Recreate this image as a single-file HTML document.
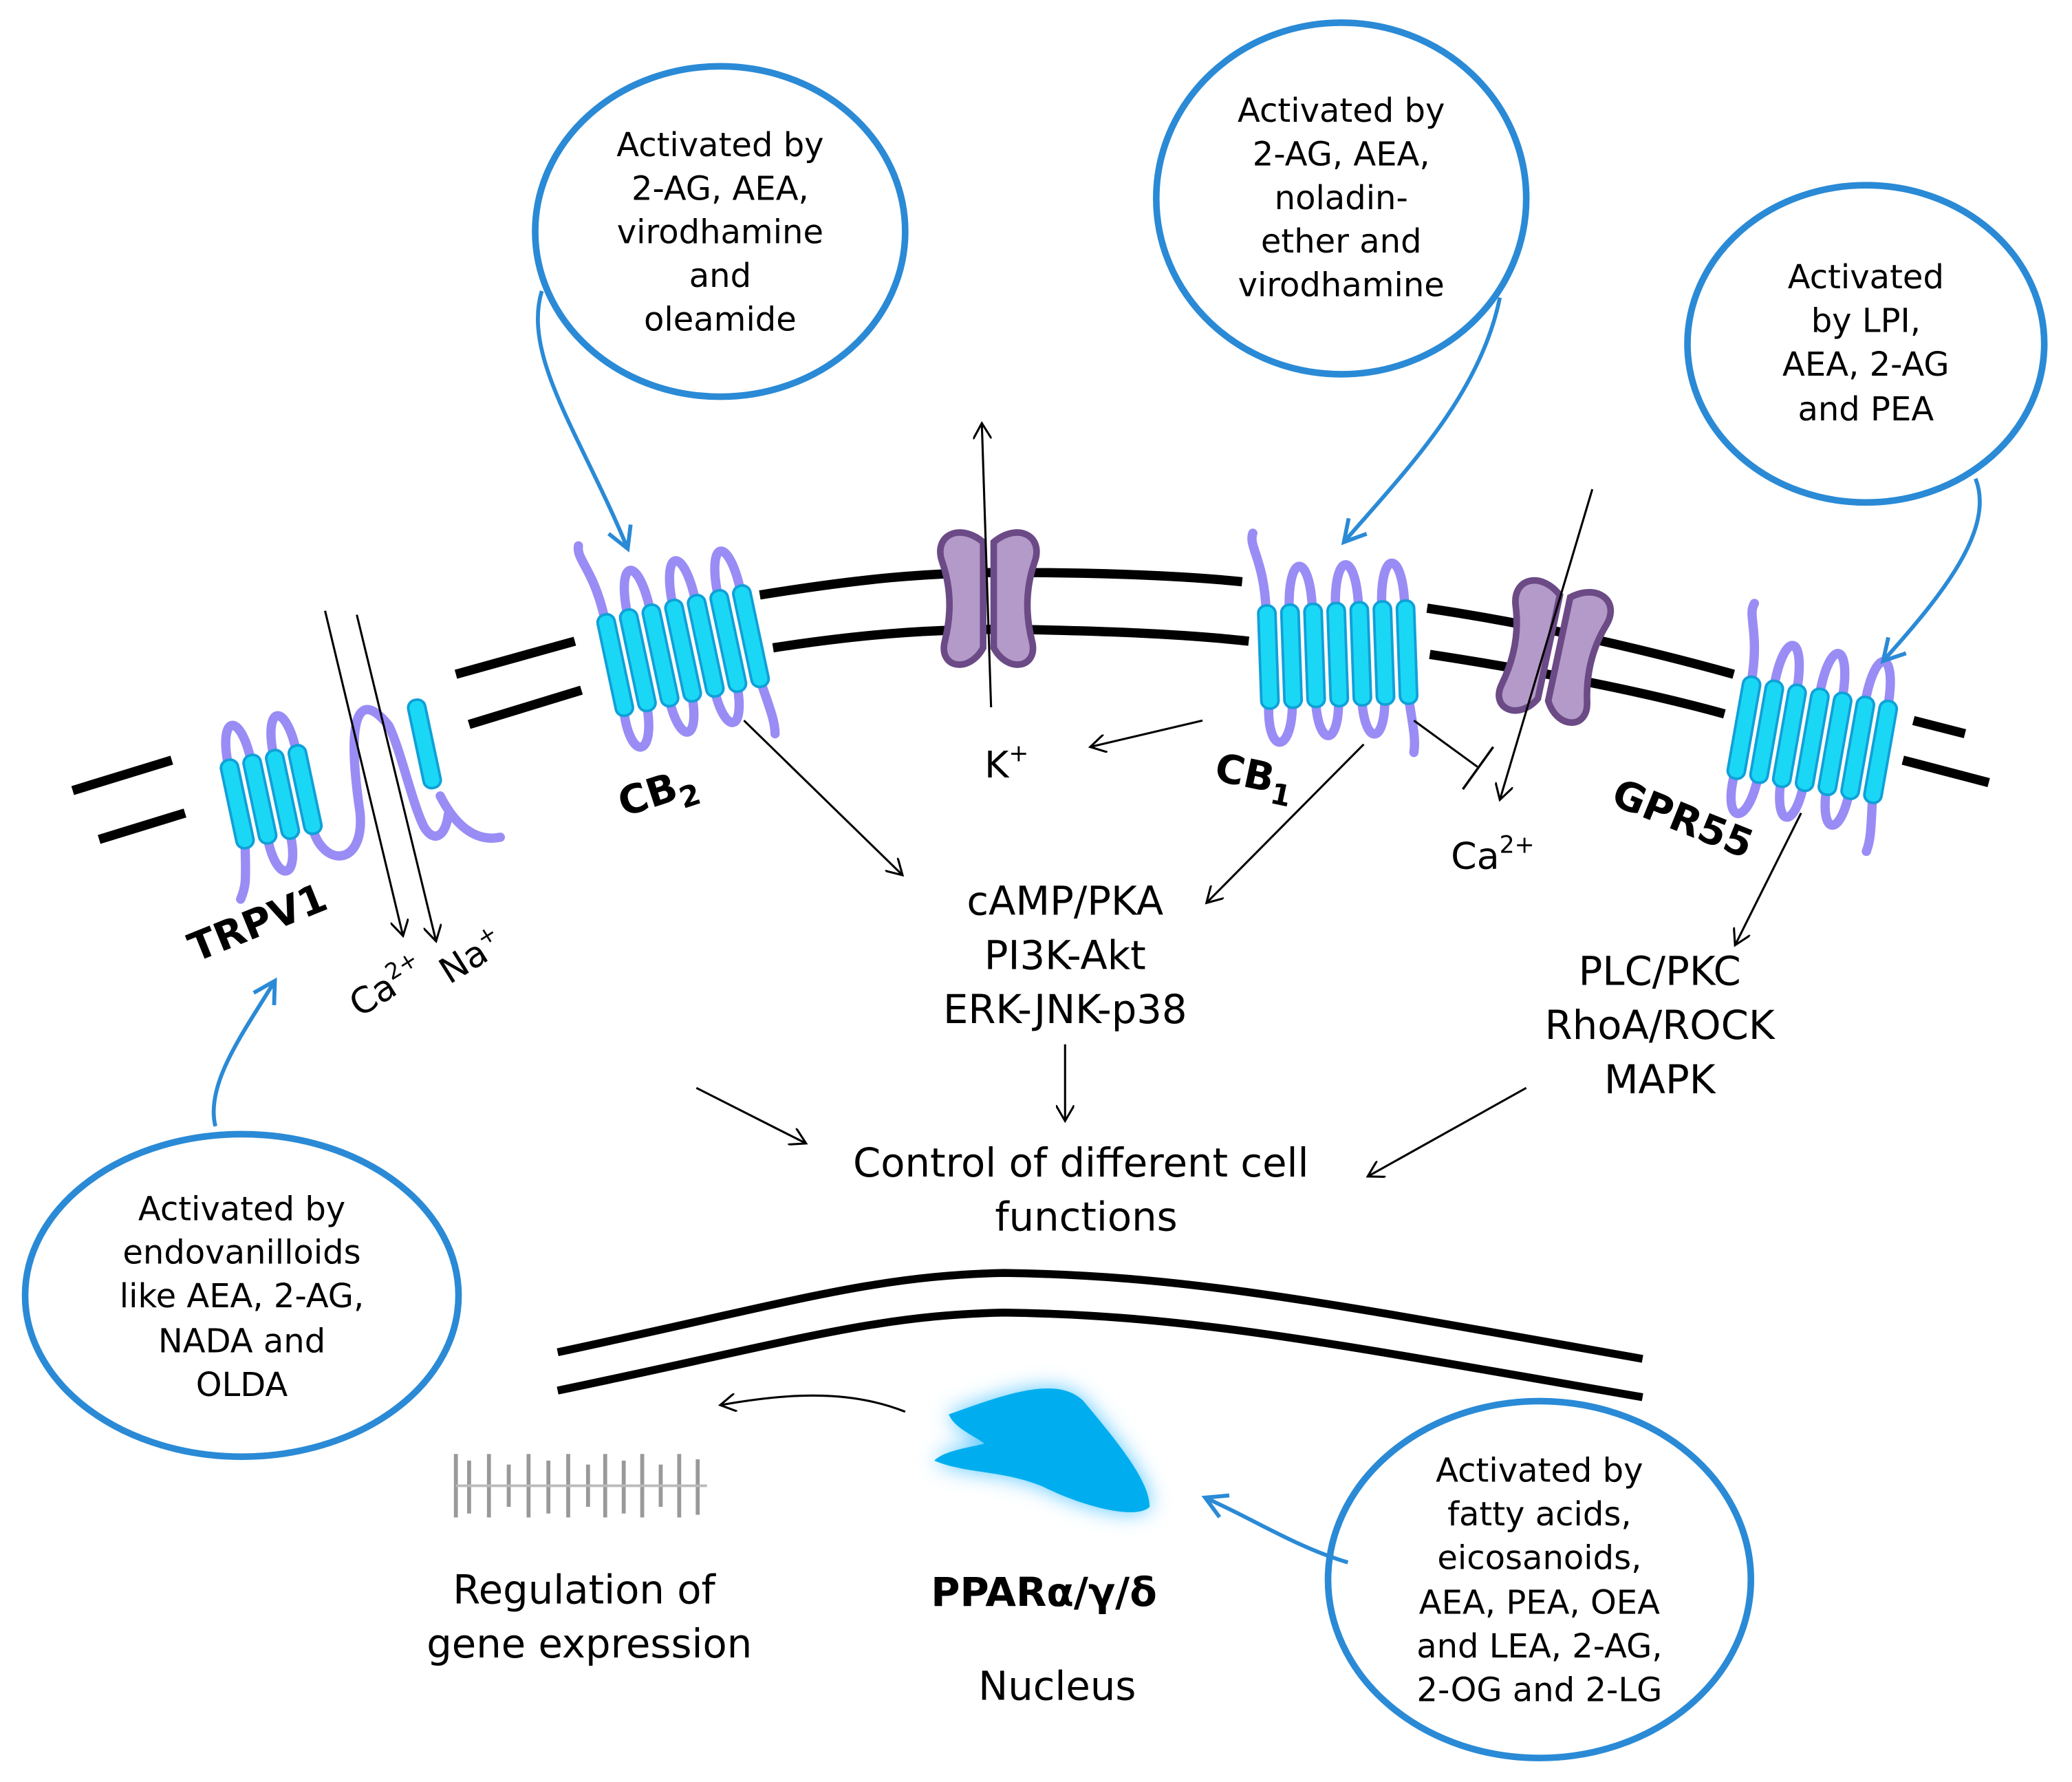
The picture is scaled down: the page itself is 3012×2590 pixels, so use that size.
<!DOCTYPE html>
<html><head><meta charset="utf-8"><style>
html,body{margin:0;padding:0;background:#fff}
svg{display:block}
text{font-family:"DejaVu Sans","Liberation Sans",sans-serif;fill:#000}
</style></head><body>
<svg width="3012" height="2590" viewBox="0 0 1568 1348" xmlns="http://www.w3.org/2000/svg">
<defs>
<marker id="a" markerWidth="14" markerHeight="14" refX="12" refY="7" orient="auto" markerUnits="userSpaceOnUse"><path d="M0,0 L12,7 L0,14" fill="none" stroke="#000" stroke-width="1.6"/></marker>
<marker id="b" markerWidth="22" markerHeight="22" refX="18" refY="11" orient="auto" markerUnits="userSpaceOnUse"><path d="M2,2 L18,11 L2,20" fill="none" stroke="#2a8ad6" stroke-width="3"/></marker>
<g id="gp">
<g fill="none" stroke="#9a8cf5" stroke-width="7" stroke-linecap="round">
<path d="M0,5 C0,-35 -12,-45 -8,-55"/>
<path d="M17.5,5 C17.5,-40 35,-40 35,5"/>
<path d="M52.5,5 C52.5,-40 70,-40 70,5"/>
<path d="M87.5,5 C87.5,-40 105,-40 105,5"/>
<path d="M0,70 C-5,115 17.5,115 17.5,70"/>
<path d="M35,70 C35,110 52.5,110 52.5,70"/>
<path d="M70,70 C70,110 87.5,110 87.5,70"/>
<path d="M105,70 C108,95 110,105 108,115"/>
</g>
<g fill="#1ad8f5" stroke="#10a0d8" stroke-width="2">
<rect x="-6" y="0" width="13" height="78" rx="6"/><rect x="11.5" y="0" width="13" height="78" rx="6"/>
<rect x="29" y="0" width="13" height="78" rx="6"/><rect x="46.5" y="0" width="13" height="78" rx="6"/>
<rect x="64" y="0" width="13" height="78" rx="6"/><rect x="81.5" y="0" width="13" height="78" rx="6"/>
<rect x="99" y="0" width="13" height="78" rx="6"/>
</g>
</g>
<g id="ch">
<path d="M-4,-45 C-22,-60 -42,-50 -35,-30 C-28,-10 -28,10 -33,30 C-38,50 -15,55 -4,35 Z" fill="#b39ac8" stroke="#6b4a86" stroke-width="5"/>
<path d="M4,-45 C22,-60 42,-50 35,-30 C28,-10 28,10 33,30 C38,50 15,55 4,35 Z" fill="#b39ac8" stroke="#6b4a86" stroke-width="5"/>
</g>
<filter id="gl" x="-50%" y="-50%" width="200%" height="200%"><feGaussianBlur stdDeviation="8"/></filter>
</defs>

<!-- membrane -->
<g stroke="#000" stroke-width="7" fill="none">
<path d="M55,598 L130,575"/><path d="M75,635 L140,615"/>
<path d="M345,510 L435,485"/><path d="M355,548 L440,522"/>
<path d="M575,450 C650,438 700,433 760,433 C840,433 900,436 940,440"/>
<path d="M585,490 C650,480 700,476 760,476 C840,477 900,480 945,485"/>
<path d="M1080,460 C1160,472 1240,490 1312,510"/><path d="M1082,495 C1160,507 1240,522 1305,540"/>
<path d="M1448,545 L1487,555"/><path d="M1440,575 L1505,592"/>
</g>

<!-- channels -->
<use href="#ch" transform="translate(748,455)"/>
<use href="#ch" transform="translate(1175,495) rotate(12)"/>

<!-- receptors -->
<use href="#gp" transform="translate(457,465) rotate(-12)"/>
<use href="#gp" transform="translate(958,458) rotate(-2)"/>
<use href="#gp" transform="translate(1326,512) rotate(10)"/>

<!-- TRPV1 -->
<g transform="translate(172,575) rotate(-12)">
<g fill="none" stroke="#9a8cf5" stroke-width="7" stroke-linecap="round">
<path d="M0,5 C0,-35 17.5,-35 17.5,5"/><path d="M35,5 C35,-35 52.5,-35 52.5,5"/>
<path d="M17.5,65 C17.5,100 35,100 35,65"/>
<path d="M52.5,65 C55,95 85,100 90,60 C95,-20 110,-30 125,0 C130,20 130,60 135,80 C140,95 150,90 155,75"/>
<path d="M0,65 C-5,90 -5,95 -12,105"/>
<path d="M152,60 C160,90 175,100 190,100"/>
</g>
<g fill="#1ad8f5" stroke="#10a0d8" stroke-width="2">
<rect x="-6" y="0" width="13" height="68" rx="6"/><rect x="11.5" y="0" width="13" height="68" rx="6"/>
<rect x="29" y="0" width="13" height="68" rx="6"/><rect x="46.5" y="0" width="13" height="68" rx="6"/>
<rect x="142" y="-15" width="13" height="68" rx="6"/>
</g>
</g>

<!-- black arrows -->
<g stroke="#000" stroke-width="1.6" fill="none" marker-end="url(#a)">
<path d="M750,535 L743,320"/>
<path d="M910,545 L825,565"/>
<path d="M246,462 L305,708"/>
<path d="M270,465 L330,712"/>
<path d="M563,545 L683,662"/>
<path d="M1032,563 L913,683"/>
<path d="M1205,370 L1135,605"/>
<path d="M1363,615 L1313,715"/>
<path d="M806,790 L806,848"/>
<path d="M527,823 L610,865"/>
<path d="M1155,823 L1035,890"/>
<path d="M685,1068 C640,1050 590,1055 545,1063"/>
</g>
<path d="M1070,545 L1118,580" stroke="#000" stroke-width="1.6"/>
<path d="M1107,597 L1130,565" stroke="#000" stroke-width="1.8"/>

<!-- nucleus membrane -->
<g stroke="#000" stroke-width="6" fill="none">
<path d="M422,1023 C600,985 660,965 760,963 C900,965 1000,985 1243,1028"/>
<path d="M422,1052 C600,1015 660,995 760,993 C900,995 1000,1015 1243,1057"/>
</g>

<!-- PPAR -->
<path d="M718,1070 C760,1055 800,1040 820,1060 C845,1090 870,1120 870,1140 C860,1150 820,1140 790,1125 C760,1112 730,1115 707,1105 C715,1097 735,1095 745,1092 C735,1085 722,1080 718,1070 Z" fill="#5cc8ff" filter="url(#gl)"/>
<path d="M718,1070 C760,1055 800,1040 820,1060 C845,1090 870,1120 870,1140 C860,1150 820,1140 790,1125 C760,1112 730,1115 707,1105 C715,1097 735,1095 745,1092 C735,1085 722,1080 718,1070 Z" fill="#00aeef"/>

<!-- DNA -->
<g stroke="#999" stroke-width="3">
<path d="M345,1100 V1148 M355,1105 V1145 M370,1100 V1148 M385,1108 V1140 M400,1100 V1148 M415,1105 V1145 M430,1100 V1148 M445,1108 V1140 M458,1100 V1148 M472,1105 V1145 M486,1100 V1148 M500,1108 V1140 M514,1100 V1148 M528,1104 V1146"/>
<path d="M345,1124 H535" stroke="#bbb" stroke-width="2"/>
</g>

<!-- ellipses -->
<g fill="none" stroke="#2a8ad6" stroke-width="5">
<ellipse cx="545" cy="175" rx="140" ry="125"/>
<ellipse cx="1015" cy="150" rx="140" ry="133"/>
<ellipse cx="1412" cy="260" rx="135" ry="120"/>
<ellipse cx="183" cy="980" rx="164" ry="122"/>
<ellipse cx="1165" cy="1195" rx="160" ry="135"/>
</g>
<g fill="none" stroke="#2a8ad6" stroke-width="3" marker-end="url(#b)">
<path d="M410,220 C395,270 440,330 475,415"/>
<path d="M1135,225 C1120,300 1060,360 1017,410"/>
<path d="M1495,362 C1510,400 1470,450 1425,500"/>
<path d="M163,852 C155,820 185,780 208,742"/>
<path d="M1020,1182 C980,1170 950,1150 912,1133"/>
</g>

<!-- ellipse texts -->
<g font-size="25" text-anchor="middle">
<text x="545" y="118">Activated by</text><text x="545" y="151">2-AG, AEA,</text><text x="545" y="184">virodhamine</text><text x="545" y="217">and</text><text x="545" y="250">oleamide</text>
<text x="1015" y="92">Activated by</text><text x="1015" y="125">2-AG, AEA,</text><text x="1015" y="158">noladin-</text><text x="1015" y="191">ether and</text><text x="1015" y="224">virodhamine</text>
<text x="1412" y="218">Activated</text><text x="1412" y="251">by LPI,</text><text x="1412" y="284">AEA, 2-AG</text><text x="1412" y="318">and PEA</text>
<text x="183" y="923">Activated by</text><text x="183" y="956">endovanilloids</text><text x="183" y="989">like AEA, 2-AG,</text><text x="183" y="1023">NADA and</text><text x="183" y="1056">OLDA</text>
<text x="1165" y="1121">Activated by</text><text x="1165" y="1154">fatty acids,</text><text x="1165" y="1187">eicosanoids,</text><text x="1165" y="1221">AEA, PEA, OEA</text><text x="1165" y="1254">and LEA, 2-AG,</text><text x="1165" y="1287">2-OG and 2-LG</text>
</g>

<!-- center texts -->
<g font-size="30" text-anchor="middle">
<text x="806" y="692">cAMP/PKA</text><text x="806" y="733">PI3K-Akt</text><text x="806" y="774">ERK-JNK-p38</text>
<text x="1256" y="745">PLC/PKC</text><text x="1256" y="786">RhoA/ROCK</text><text x="1256" y="827">MAPK</text>
<text x="818" y="890">Control of different cell</text><text x="822" y="931">functions</text>
<text x="442" y="1213">Regulation of</text><text x="446" y="1254">gene expression</text>
<text x="800" y="1286">Nucleus</text>
</g>
<text x="790" y="1215" font-size="30" font-weight="bold" text-anchor="middle">PPARα/γ/δ</text>
<text x="745" y="588" font-size="28">K<tspan font-size="18" dy="-12">+</tspan></text>
<text x="1098" y="657" font-size="28">Ca<tspan font-size="18" dy="-12">2+</tspan></text>
<text transform="translate(272,770) rotate(-32)" font-size="27">Ca<tspan font-size="17" dy="-11">2+</tspan></text>
<text transform="translate(340,745) rotate(-32)" font-size="27">Na<tspan font-size="17" dy="-11">+</tspan></text>
<g font-weight="bold" font-size="30">
<text transform="translate(148,728) rotate(-22)">TRPV1</text>
<text transform="translate(472,618) rotate(-18)">CB<tspan font-size="22" dy="8">2</tspan></text>
<text transform="translate(918,590) rotate(12)">CB<tspan font-size="22" dy="8">1</tspan></text>
<text transform="translate(1218,608) rotate(22)">GPR55</text>
</g>
</svg>
</body></html>
